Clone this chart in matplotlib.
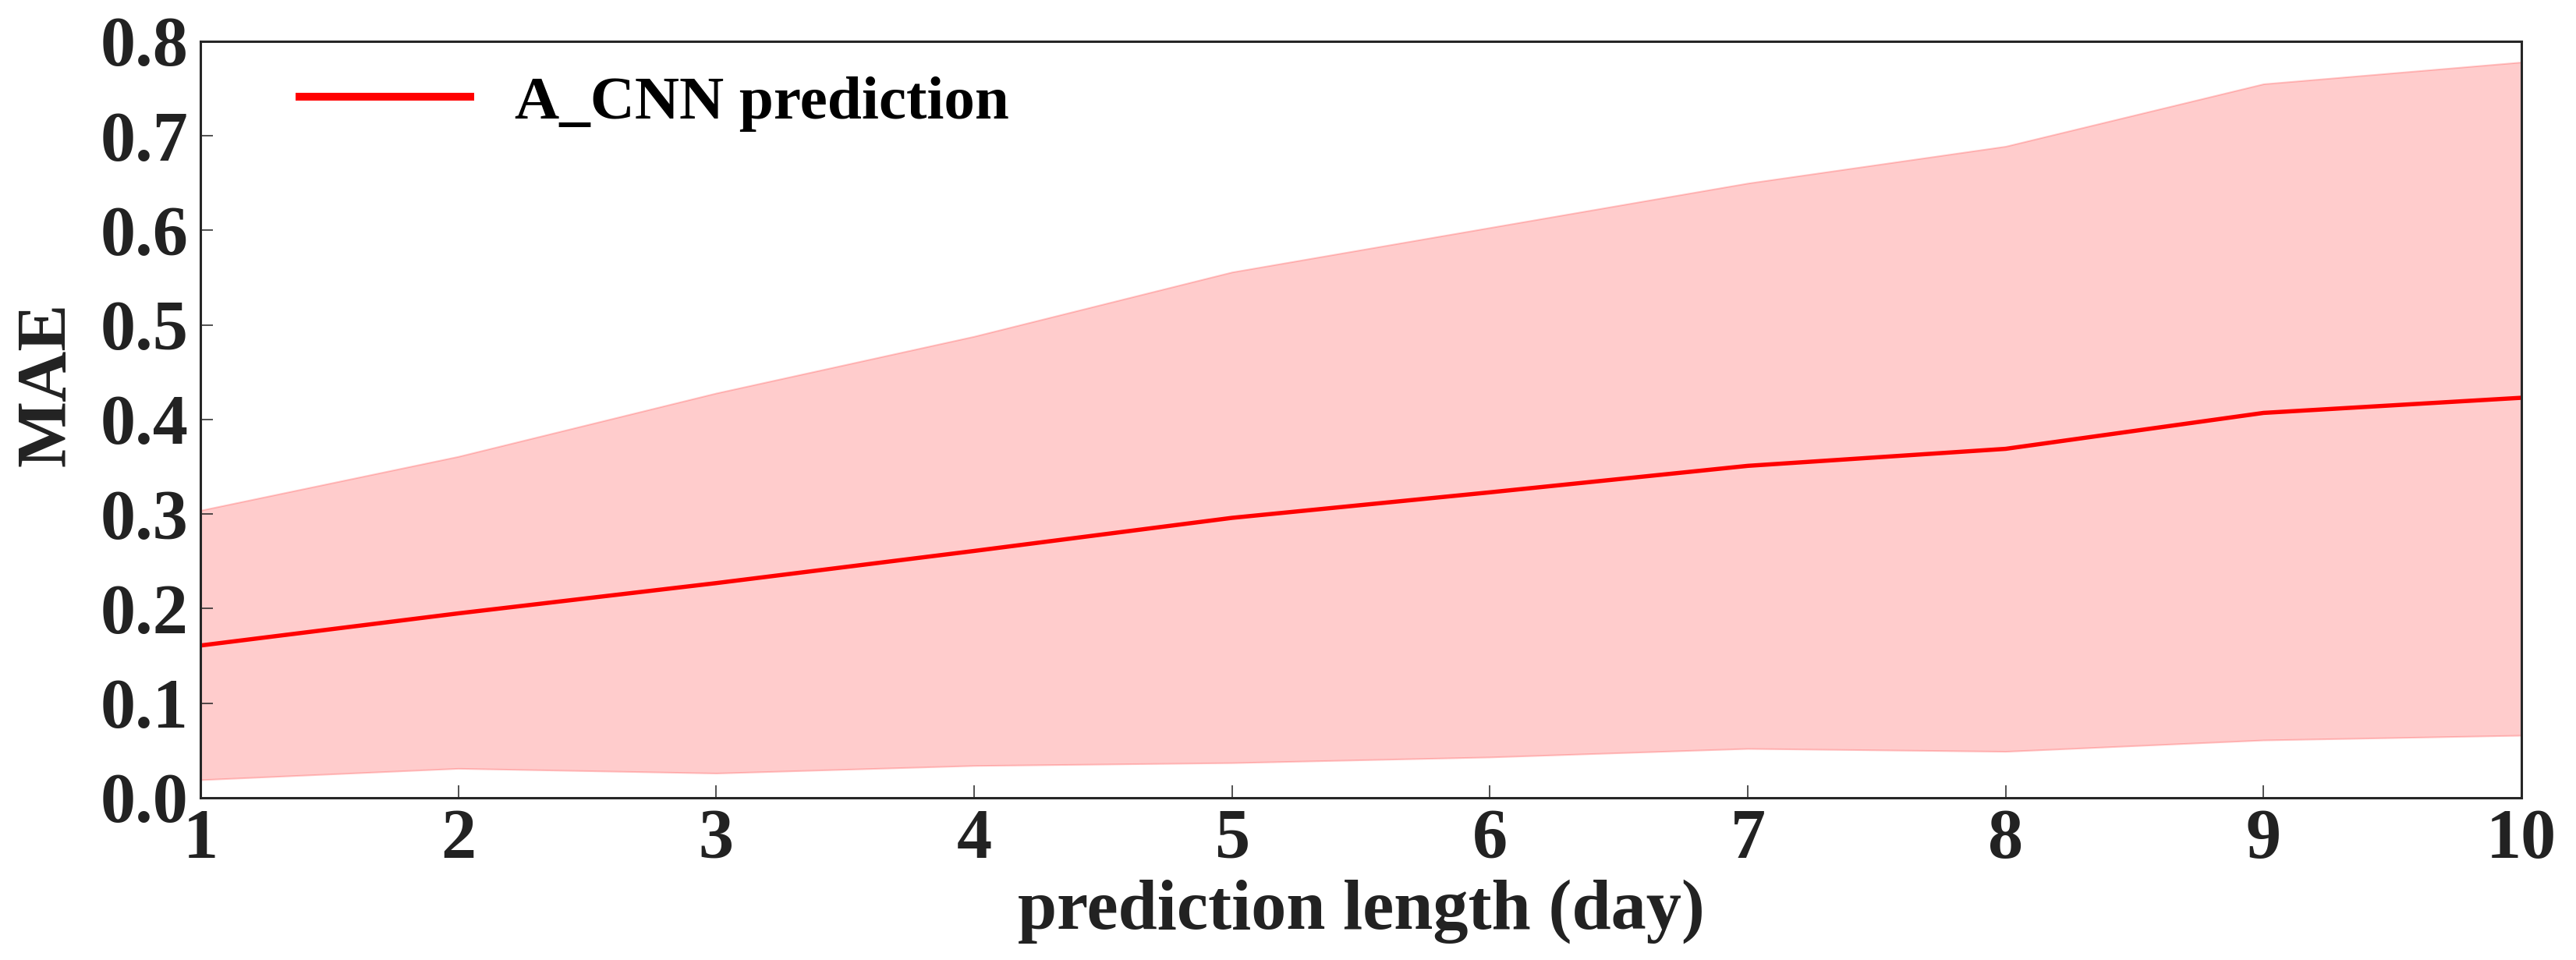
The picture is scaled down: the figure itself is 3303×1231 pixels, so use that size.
import numpy as np
import matplotlib
matplotlib.use("Agg")
import matplotlib.pyplot as plt

# data
days = [1, 2, 3, 4, 5, 6, 7, 8, 9, 10]
mae_mean = [0.161, 0.195, 0.227, 0.261, 0.296, 0.323, 0.351, 0.369, 0.407, 0.423]
mae_upper = [0.304, 0.361, 0.428, 0.488, 0.556, 0.603, 0.650, 0.689, 0.755, 0.778]
mae_lower = [0.019, 0.031, 0.026, 0.034, 0.037, 0.043, 0.052, 0.049, 0.061, 0.066]
y_ticks = [0.0, 0.1, 0.2, 0.3, 0.4, 0.5, 0.6, 0.7, 0.8]

plt.rcParams['font.family'] = ['Liberation Serif', 'DejaVu Serif']
plt.rcParams['font.weight'] = 'bold'

fig = plt.figure(figsize=(33.03, 12.31), dpi=100)
ax = fig.add_axes([0.0778, 0.169, 0.9010, 0.788])

ax.fill_between(days, mae_lower, mae_upper, color='red', alpha=0.2, linewidth=1.5)
ax.plot(days, mae_mean, color='red', linewidth=3.9, label='A_CNN prediction')

ax.set_xlim(1, 10)
ax.set_ylim(0, 0.8)
ax.set_xticks(days)
ax.set_yticks(y_ticks)
ax.set_yticklabels([f"{v:.1f}" for v in y_ticks])

dark = '#222222'
for s in ax.spines.values():
    s.set_linewidth(2.2)
    s.set_color('#262626')
ax.tick_params(axis='both', direction='in', length=11.5, width=1.1, color=dark,
               labelsize=65, labelcolor=dark)
ax.tick_params(axis='x', pad=10)
ax.tick_params(axis='y', pad=11)
ax.tick_params(top=False, right=False)

ax.set_xlabel('prediction length (day)', fontsize=65, fontweight='bold', color=dark, labelpad=6)
ax.set_ylabel('MAE', fontsize=65, fontweight='bold', color=dark)
ax.yaxis.set_label_coords(-0.052, 0.547)

leg = ax.legend(loc='center left', bbox_to_anchor=(0.0427, 0.9175), frameon=False,
                fontsize=57, handlelength=2.76, handletextpad=0.73,
                borderpad=0, borderaxespad=0)
for line in leg.get_lines():
    line.set_linewidth(7.2)

fig.savefig('out.png', dpi=100)
